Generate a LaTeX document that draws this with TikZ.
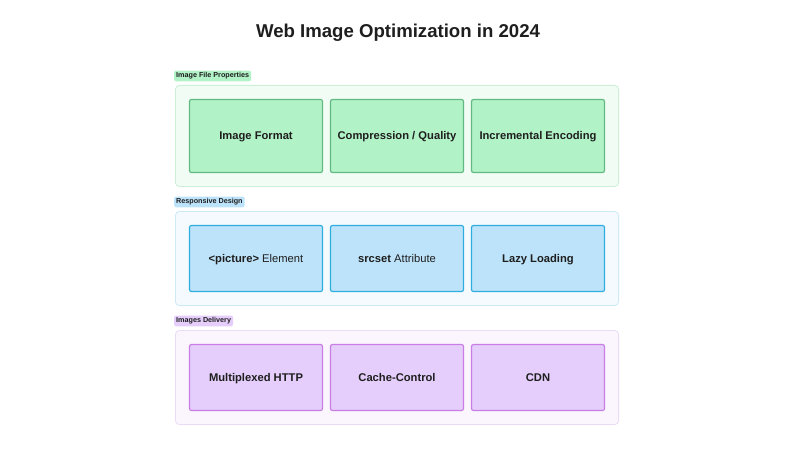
\documentclass[tikz,border=0pt]{standalone}
\usepackage{fontspec}
\setmainfont{Liberation Sans}
\usetikzlibrary{positioning,fit,backgrounds}

\definecolor{greenfill}{HTML}{B2F2C7}
\definecolor{greenline}{HTML}{62B982}
\definecolor{greenpale}{HTML}{F1FCF5}
\definecolor{greenedge}{HTML}{CDEFD8}
\definecolor{bluefill}{HTML}{BDE3FA}
\definecolor{blueline}{HTML}{2EAEE0}
\definecolor{bluepale}{HTML}{F4FAFE}
\definecolor{blueedge}{HTML}{CDEAF6}
\definecolor{purplefill}{HTML}{E5CEFB}
\definecolor{purpleline}{HTML}{C97EE6}
\definecolor{purplepale}{HTML}{FBF6FE}
\definecolor{purpleedge}{HTML}{EADCF5}
\definecolor{inktext}{HTML}{1E1E1E}

\tikzset{
    box/.style={draw,rectangle,rounded corners=2pt,line width=1.2pt,
        minimum width=133pt,minimum height=#1,text=inktext,
        text height=8pt,text depth=0pt,
        font=\fontsize{11.2}{13}\selectfont},
    greenbox/.style={box=73pt,fill=greenfill,draw=greenline,font=\fontsize{11.2}{13}\selectfont\bfseries},
    bluebox/.style={box=66pt,fill=bluefill,draw=blueline},
    purplebox/.style={box=66pt,fill=purplefill,draw=purpleline,font=\fontsize{11.2}{13}\selectfont\bfseries},
    group/.style={draw,rectangle,rounded corners=4pt,line width=0.8pt,inner sep=13.5pt},
    tag/.style={rectangle,rounded corners=2pt,inner sep=2pt,anchor=south west,
        text=inktext,font=\fontsize{7.2}{8}\selectfont\bfseries},
}

\begin{document}
\begin{tikzpicture}[x=1pt,y=-1pt]
    \useasboundingbox (0,0) rectangle (800,449);
    \node[text=inktext,font=\fontsize{18.6}{22}\selectfont\bfseries] (title) at (398,33) {Web Image Optimization in 2024};

    \node[greenbox] (format) at (256,136) {Image Format};
    \node[greenbox,right=6.8pt of format] (quality) {Compression / Quality};
    \node[greenbox,right=6.8pt of quality] (encoding) {Incremental Encoding};

    \node[bluebox] (picture) at (256,258.5) {\textbf{<picture>} Element};
    \node[bluebox,right=6.8pt of picture] (srcset) {\textbf{srcset} Attribute};
    \node[bluebox,right=6.8pt of srcset] (lazy) {\textbf{Lazy Loading}};

    \node[purplebox] (http) at (256,377.5) {Multiplexed HTTP};
    \node[purplebox,right=6.8pt of http] (cache) {Cache-Control};
    \node[purplebox,right=6.8pt of cache] (cdn) {CDN};

    \begin{scope}[on background layer]
        \node[group,fill=greenpale,draw=greenedge,fit=(format)(encoding)] (props) {};
        \node[group,fill=bluepale,draw=blueedge,fit=(picture)(lazy)] (responsive) {};
        \node[group,fill=purplepale,draw=purpleedge,fit=(http)(cdn)] (delivery) {};
    \end{scope}

    \node[tag,fill=greenfill] (propstag) at ([xshift=-1pt,yshift=3.5pt]props.north west) {Image File Properties};
    \node[tag,fill=bluefill] (responsivetag) at ([xshift=-1pt,yshift=3.5pt]responsive.north west) {Responsive Design};
    \node[tag,fill=purplefill] (deliverytag) at ([xshift=-1pt,yshift=3.5pt]delivery.north west) {Images Delivery};
\end{tikzpicture}
\end{document}
